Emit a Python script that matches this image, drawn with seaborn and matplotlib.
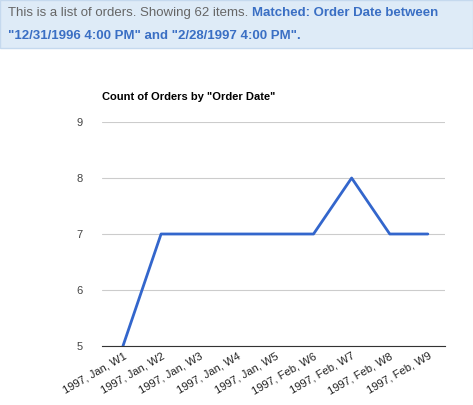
import matplotlib
matplotlib.use("Agg")
import matplotlib.pyplot as plt
import seaborn as sns
import pandas as pd
from matplotlib.patches import Rectangle

weeks = ["1997, Jan, W1", "1997, Jan, W2", "1997, Jan, W3", "1997, Jan, W4", "1997, Jan, W5",
         "1997, Feb, W6", "1997, Feb, W7", "1997, Feb, W8", "1997, Feb, W9"]
counts = [5, 7, 7, 7, 7, 7, 8, 7, 7]
yticks = [5, 6, 7, 8, 9]

sns.set_style("white")
plt.rcParams['font.family'] = ['Arial', 'Liberation Sans', 'DejaVu Sans']

fig = plt.figure(figsize=(4.73, 4.05), dpi=100)
# banner
fig.patches.append(Rectangle((0, 0.882), 1, 0.118, transform=fig.transFigure,
                             facecolor="#deebf7", edgecolor="#c5d9ee", lw=1))
blue = "#3a6fc4"
t1 = fig.text(8/473, 1-13/405, "This is a list of orders. Showing 62 items. ", color="#666666",
              fontsize=9.5, va="center")
fig.canvas.draw()
bb = t1.get_window_extent()
fig.text(bb.x1/473, 1-13/405, "Matched: Order Date between", color=blue, fontsize=9.5,
         fontweight="bold", va="center")
fig.text(8/473, 1-36/405, "\"12/31/1996 4:00 PM\" and \"2/28/1997 4:00 PM\".", color=blue,
         fontsize=9.5, fontweight="bold", va="center")

ax = fig.add_axes([102/473, 1-346/405, 343/473, 224/405])
df = pd.DataFrame({"week": weeks, "count": counts})
sns.lineplot(data=df, x="week", y="count", ax=ax, color="#3366cc", lw=2, sort=False)
ax.set_xlim(-0.55, 8.45)
ax.set_ylim(5, 9)
ax.set_yticks(yticks)
ax.grid(axis="y", color="#cccccc", lw=0.8)
for s in ["top", "right", "left"]:
    ax.spines[s].set_visible(False)
ax.spines["bottom"].set_color("#333333")
ax.tick_params(axis="both", length=0, labelsize=8, colors="#444444")
ax.tick_params(axis="y", pad=14)
plt.setp(ax.get_xticklabels(), rotation=30, ha="right", rotation_mode="anchor", color="#222222")
ax.set_xlabel("")
ax.set_ylabel("")
fig.text(102/473, 1-97/405, 'Count of Orders by "Order Date"', fontsize=8, fontweight="bold",
         va="center", color="#000000")
fig.savefig("out.png", dpi=100)
